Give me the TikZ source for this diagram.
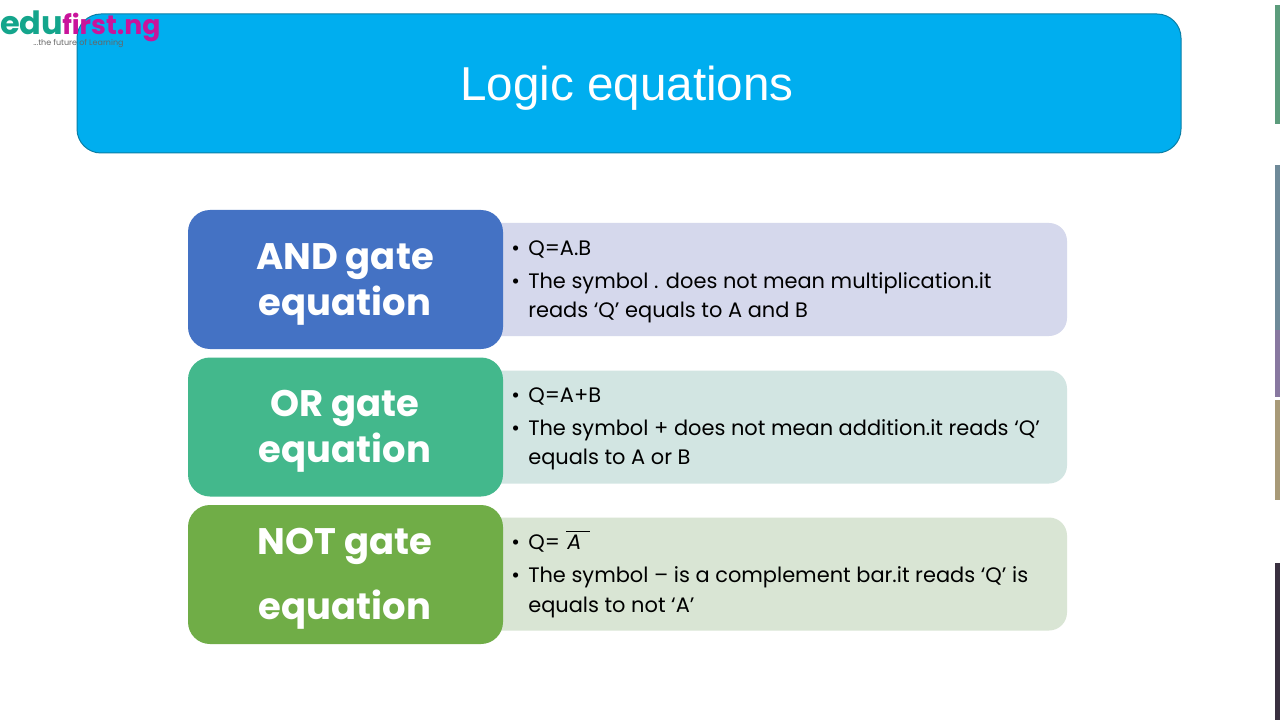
\documentclass[tikz,border=0pt]{standalone}
\usepackage{fontspec}
\setmainfont{Poppins}
\newfontfamily\titlefont{Liberation Sans}

\definecolor{titleblue}{HTML}{00AEEF}
\definecolor{titleline}{HTML}{0A7FA6}
\definecolor{andblue}{HTML}{4472C4}
\definecolor{orgreen}{HTML}{43B88C}
\definecolor{notgreen}{HTML}{70AD47}
\definecolor{andlight}{HTML}{D5D8EC}
\definecolor{orlight}{HTML}{D2E5E2}
\definecolor{notlight}{HTML}{D9E5D4}
\definecolor{logoteal}{HTML}{14A58C}
\definecolor{logopink}{HTML}{C9149B}
\definecolor{stripgreen}{HTML}{5C9C7C}
\definecolor{stripblue}{HTML}{6F8A99}
\definecolor{strippurple}{HTML}{8878A0}
\definecolor{striptan}{HTML}{A89A78}
\definecolor{stripdark}{HTML}{3A3040}

\tikzset{
    gatebox/.style={fill=#1, rounded corners=16.5pt, minimum width=236.25pt, minimum height=104.25pt, inner sep=0pt, outer sep=0pt},
    notebox/.style={fill=#1, rounded corners=13.5pt, minimum width=447.75pt, minimum height=84.75pt, inner sep=0pt, outer sep=0pt},
    gatetext/.style={text=white, anchor=base, inner sep=0pt, font=\fontsize{27.7pt}{32pt}\selectfont\bfseries},
    bodytext/.style={text=black, anchor=base west, inner sep=0pt, font=\fontsize{15.7pt}{19pt}\selectfont},
    stripbox/.style={fill=#1, minimum width=3.75pt, inner sep=0pt, outer sep=0pt, anchor=north east}
}

\begin{document}
\begin{tikzpicture}[x=0.75pt,y=-0.75pt]

    % Fixes the page to the size of the slide
    \path[use as bounding box,fill=white] (0,0) rectangle (1280,720);

    % Draws the title bar
    \node[fill=titleblue, draw=titleline, line width=0.75pt, rounded corners=18pt, minimum width=828pt, minimum height=104.25pt, inner sep=0pt] (titlebar) at (629,83.5) {};
    \node[text=white, inner sep=0pt, anchor=base, font=\fontsize{35.7pt}{42pt}\selectfont\titlefont] (titletext) at (627,101) {Logic equations};

    % Draws the logo over the corner of the title bar
    \node[text=logoteal, anchor=base west, inner sep=0pt, font=\fontsize{24pt}{28pt}\selectfont\bfseries] (logoedu) at (0,35) {edu};
    \node[text=logopink, anchor=base west, inner sep=0pt, font=\fontsize{20pt}{24pt}\selectfont\bfseries] (logofirst) at (62,35) {first.ng};
    \node[text=black!60, anchor=base west, inner sep=0pt, font=\fontsize{6pt}{7pt}\selectfont] (logotag) at (33,46) {...the future of Learning};

    % Draws the light boxes first, their left ends go behind the gate boxes
    \node[notebox=andlight] (andnote) at (768.5,279.5) {};
    \node[notebox=orlight] (ornote) at (768.5,427) {};
    \node[notebox=notlight] (notnote) at (768.5,574) {};

    % Draws the gate boxes
    \node[gatebox=andblue] (andgate) at (345.5,279.5) {};
    \node[gatebox=orgreen] (orgate) at (345.5,427) {};
    \node[gatebox=notgreen] (notgate) at (345.5,574.5) {};

    % Writes the gate names
    \node[gatetext] (andone) at (345,269) {AND gate};
    \node[gatetext] (andtwo) at (345,315) {equation};
    \node[gatetext] (orone) at (345,416) {OR gate};
    \node[gatetext] (ortwo) at (345,462) {equation};
    \node[gatetext] (notone) at (345,554) {NOT gate};
    \node[gatetext] (nottwo) at (345,619) {equation};

    % Places the bullets of the three lists
    \foreach \y [count=\i] in {255,288,402,435,549,582} {
        \node[bodytext] (bullet\i) at (511,\y) {•};
    }

    % Writes the AND gate notes
    \node[bodytext] (andqa) at (528,255) {Q=A.B};
    \node[bodytext] (andqb) at (528,288) {The symbol . does not mean multiplication.it};
    \node[bodytext] (andqc) at (528,317) {reads ‘Q’ equals to A and B};

    % Writes the OR gate notes
    \node[bodytext] (orqa) at (528,402) {Q=A+B};
    \node[bodytext] (orqb) at (528,435) {The symbol + does not mean addition.it reads ‘Q’};
    \node[bodytext] (orqc) at (528,464) {equals to A or B};

    % Writes the NOT gate notes
    \node[bodytext] (notqa) at (528,549) {Q=};
    \node[bodytext] (notqd) at (567,549) {\itshape A};
    \node[bodytext] (notqb) at (528,582) {The symbol – is a complement bar.it reads ‘Q’ is};
    \node[bodytext] (notqc) at (528,612) {equals to not ‘A’};

    % Draws the complement bar above the letter
    \coordinate (barleft) at (566,531);
    \coordinate (barright) at (590,531);
    \draw[line width=0.6pt] (barleft) -- (barright);

    % Draws the strip of coloured noise on the right edge
    \node[stripbox=stripgreen, minimum height=89pt] (stripa) at (1280,5) {};
    \node[stripbox=stripblue, minimum height=124pt] (stripb) at (1280,165) {};
    \node[stripbox=strippurple, minimum height=50pt] (stripc) at (1280,330) {};
    \node[stripbox=striptan, minimum height=75pt] (stripd) at (1280,400) {};
    \node[stripbox=stripdark, minimum height=118pt] (stripe) at (1280,563) {};

\end{tikzpicture}
\end{document}
